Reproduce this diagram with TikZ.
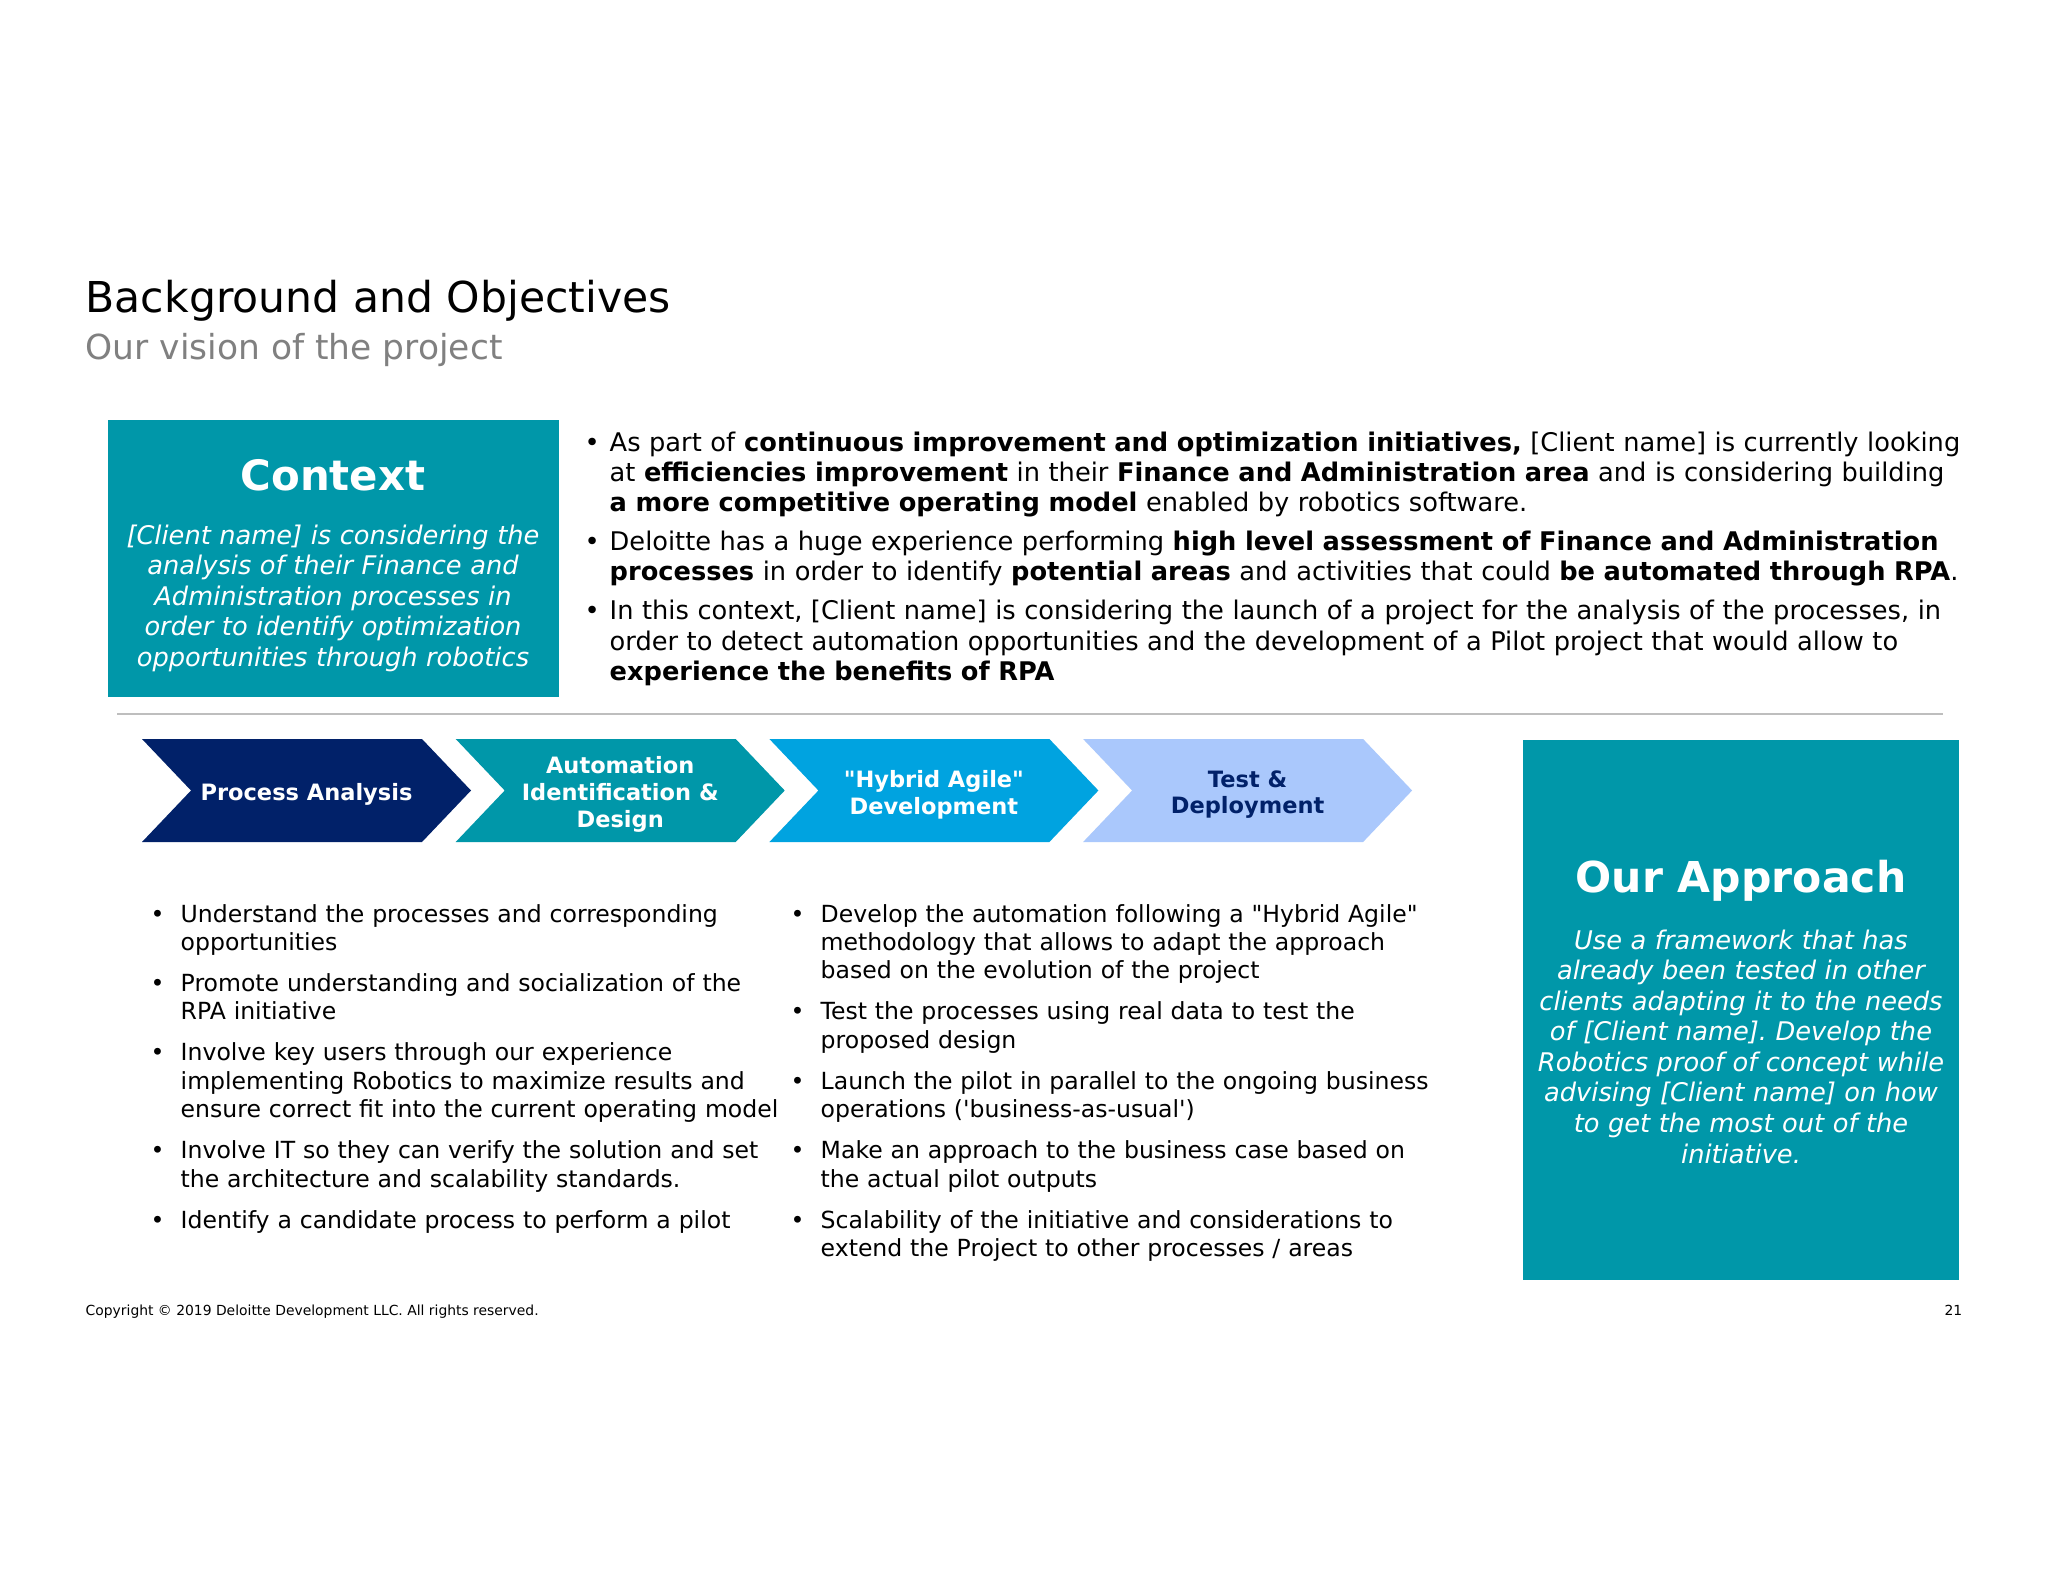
\documentclass[tikz,border=0pt]{standalone}
\usepackage{fontspec}
\setmainfont{DejaVu Sans}[Ligatures=TeXOff]
\usepackage{tikz}
\usetikzlibrary{positioning}
\definecolor{dtnavy}{RGB}{1,33,105}
\definecolor{dtteal}{RGB}{0,151,169}
\definecolor{dtblue}{RGB}{0,163,224}
\definecolor{dtpale}{RGB}{170,200,252}
\definecolor{rulegray}{RGB}{190,190,190}
\newlength{\bulind}
\newcommand{\bul}{\noindent\hangindent=\bulind\hangafter=1\makebox[\bulind][l]{\kern-0.05cm•}}
\newcommand{\fsz}[2]{\fontsize{#1}{#2}\selectfont}
\frenchspacing

\begin{document}
\begin{tikzpicture}[x=0.01cm,y=-0.01cm,
  every node/.style={inner sep=0pt},
  boxhead/.style={text=white,anchor=base},
  boxbody/.style={text=white,align=center,anchor=base,font=\itshape\fsz{7.3}{8.7}},
  steptext/.style={align=center,font=\bfseries\fsz{6.4}{7.6}},
  bullist/.style={anchor=base west,align=left}]
  \fill[white] (0,0) rectangle (2048,1582);
  \useasboundingbox (0,0) rectangle (2048,1582);

  \node[anchor=base west,font=\fsz{12.1}{14.5}] (title) at (85,313) {Background and Objectives};
  \node[anchor=base west,text=black!50,font=\fsz{9.8}{11.8}] (subtitle) at (85,359) {Our vision of the project};

  % context box
  \fill[dtteal] (108,420) rectangle (559,697);
  \node[boxhead,font=\bfseries\fsz{11.9}{14}] (ctxhead) at (333,490) {Context};
  \node[boxbody,text width=4.4cm] (ctxbody) at (333,544) {[Client name] is considering the\\
    analysis of their Finance and\\ Administration processes in\\
    order to identify optimization\\ opportunities through robotics};

  \node[bullist,text width=14.5cm,font=\fsz{7.3}{8.6}] (ctxlist) at (589,451) {%
    \setlength{\bulind}{0.2cm}\setlength{\parskip}{2.5pt}%
    \bul As part of \textbf{continuous improvement and optimization initiatives,} [Client name] is currently looking\newline
    at \textbf{efficiencies improvement} in their \textbf{Finance and Administration area} and is considering building\newline
    \textbf{a more competitive operating model} enabled by robotics software.\par
    \bul Deloitte has a huge experience performing \textbf{high level assessment of Finance and Administration}\newline
    \textbf{processes} in order to identify \textbf{potential areas} and activities that could \textbf{be automated through RPA}.\par
    \bul In this context, [Client name] is considering the launch of a project for the analysis of the processes, in\newline
    order to detect automation opportunities and the development of a Pilot project that would allow to\newline
    \textbf{experience the benefits of RPA}\par};

  \draw[rulegray,line width=0.02cm] (117,714) -- (1943,714);

  % phases
  \foreach \i/\fc/\tc/\txt in {0/dtnavy/white/{Process Analysis},
      1/dtteal/white/{Automation\\Identification \&\\Design},
      2/dtblue/white/{"Hybrid Agile"\\Development},
      3/dtpale/dtnavy/{Test \&\\Deployment}} {
    \pgfmathsetmacro{\x}{142+313.7*\i}
    \fill[\fc] (\x,739) -- ++(280,0) -- ++(49,51.5) -- ++(-49,51.5) -- ++(-280,0) -- ++(49,-51.5) -- cycle;
    \node[steptext,text=\tc] (phase\i) at (\x+164.5,794.5) {\txt};
  }

  \node[bullist,text width=7cm,font=\fsz{6.7}{8.07}] (leftlist) at (155,922) {%
    \setlength{\bulind}{0.25cm}\setlength{\parskip}{3.6pt}%
    \bul Understand the processes and corresponding\newline opportunities\par
    \bul Promote understanding and socialization of the\newline RPA initiative\par
    \bul Involve key users through our experience\newline
    implementing Robotics to maximize results and\newline
    ensure correct fit into the current operating model\par
    \bul Involve IT so they can verify the solution and set\newline
    the architecture and scalability standards.\par
    \bul Identify a candidate process to perform a pilot\par};
  \node[bullist,text width=7cm,font=\fsz{6.7}{8.07}] (rightlist) at (795,922) {%
    \setlength{\bulind}{0.25cm}\setlength{\parskip}{3.6pt}%
    \bul Develop the automation following a "Hybrid Agile"\newline
    methodology that allows to adapt the approach\newline
    based on the evolution of the project\par
    \bul Test the processes using real data to test the\newline proposed design\par
    \bul Launch the pilot in parallel to the ongoing business\newline
    operations ('business-as-usual')\par
    \bul Make an approach to the business case based on\newline the actual pilot outputs\par
    \bul Scalability of the initiative and considerations to\newline
    extend the Project to other processes / areas\par};

  % approach box
  \fill[dtteal] (1523,740) rectangle (1959,1280);
  \node[boxhead,font=\bfseries\fsz{12.1}{14.5}] (apphead) at (1741,892) {Our Approach};
  \node[boxbody,text width=4.3cm] (appbody) at (1741,949) {Use a framework that has\\
    already been tested in other\\ clients adapting it to the needs\\
    of [Client name]. Develop the\\ Robotics proof of concept while\\
    advising [Client name] on how\\ to get the most out of the\\ initiative.};

  \node[anchor=base west,font=\fsz{3.95}{4.7}] (copyr) at (85,1315) {Copyright © 2019 Deloitte Development LLC. All rights reserved.};
  \node[anchor=base east,font=\fsz{3.95}{4.7}] (pageno) at (1963,1315) {21};
\end{tikzpicture}
\end{document}
